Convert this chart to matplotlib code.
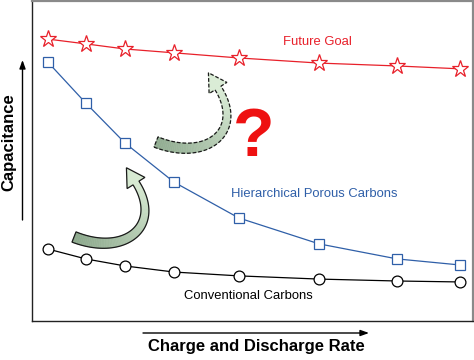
import numpy as np
import matplotlib
matplotlib.use("Agg")
import matplotlib.pyplot as plt
from matplotlib.patches import Polygon
from matplotlib.collections import PolyCollection

plt.rcParams['font.family'] = ['Liberation Sans', 'DejaVu Sans']

# ---- data (arbitrary units) ----
rate = [3.6, 12.2, 21.1, 32.2, 46.9, 65.1, 82.8, 97.1]
future_goal = [88.1, 86.6, 85.0, 83.8, 82.2, 80.6, 79.7, 78.8]
hierarchical = [80.9, 68.1, 55.6, 43.4, 32.2, 24.1, 19.4, 17.5]
conventional = [22.5, 19.4, 17.2, 15.3, 14.1, 13.1, 12.5, 12.2]

RED = '#e8202a'
BLUE = '#2f5fa8'

W, H = 474, 360
fig = plt.figure(figsize=(W / 100, H / 100), dpi=100)
L, R, T, B = 32, 473, 1, 321
ax = fig.add_axes([L / W, 1 - B / H, (R - L) / W, (B - T) / H])
ax.set_xlim(0, 100)
ax.set_ylim(0, 100)
ax.set_xticks([])
ax.set_yticks([])
for s in ['left', 'bottom']:
    ax.spines[s].set_color('#222222')
    ax.spines[s].set_linewidth(1.0)
for s in ['top', 'right']:
    ax.spines[s].set_color('#8a8a8a')
    ax.spines[s].set_linewidth(1.6)

ax.plot(rate, future_goal, color=RED, lw=0.9, marker='*', ms=12.5,
        mfc='white', mec=RED, mew=0.9, zorder=3)
ax.plot(rate, hierarchical, color=BLUE, lw=0.9, marker='s', ms=6.8,
        mfc='white', mec=BLUE, mew=0.9, zorder=3)
ax.plot(rate, conventional, color='black', lw=0.9, marker='o', ms=7.8,
        mfc='white', mec='black', mew=0.9, zorder=3)

def F(x, y):
    return (x / W, 1 - y / H)

fig.text(*F(317, 42), 'Future Goal', color=RED, fontsize=9.4,
         ha='center', va='center')
fig.text(*F(314, 194), 'Hierarchical Porous Carbons', color=BLUE,
         fontsize=9.4, ha='center', va='center')
fig.text(*F(248, 296), 'Conventional Carbons', color='black',
         fontsize=9.4, ha='center', va='center')
fig.text(*F(254, 138), '?', color='#ee1111', fontsize=49,
         fontweight='bold', ha='center', va='center')

# axis labels with arrows
fig.text(*F(9, 142), 'Capacitance', fontsize=12, fontweight='bold',
         rotation=90, ha='center', va='center')
fig.text(*F(256, 346), 'Charge and Discharge Rate', fontsize=12,
         fontweight='bold', ha='center', va='center')
ax.annotate('', xy=F(22.5, 60), xytext=F(22.5, 220), xycoords='figure fraction',
            textcoords='figure fraction',
            arrowprops=dict(arrowstyle='-|>,head_length=0.5,head_width=0.18',
                            lw=1.0, color='black', shrinkA=0, shrinkB=0))
ax.annotate('', xy=F(369, 333), xytext=F(143, 333), xycoords='figure fraction',
            textcoords='figure fraction',
            arrowprops=dict(arrowstyle='-|>,head_length=0.5,head_width=0.18',
                            lw=1.0, color='black', shrinkA=0, shrinkB=0))

# ---- curved block arrows ----
def curved_arrow(P, w0, w1, hw, hl, c0, c1, dashed=False):
    P = np.array(P, float)
    t = np.linspace(0, 1, 80)[:, None]
    pts = ((1 - t) ** 3 * P[0] + 3 * (1 - t) ** 2 * t * P[1]
           + 3 * (1 - t) * t ** 2 * P[2] + t ** 3 * P[3])
    der = (3 * (1 - t) ** 2 * (P[1] - P[0]) + 6 * (1 - t) * t * (P[2] - P[1])
           + 3 * t ** 2 * (P[3] - P[2]))
    d = der / np.linalg.norm(der, axis=1)[:, None]
    n = np.column_stack([-d[:, 1], d[:, 0]])
    w = (w0 + (w1 - w0) * t[:, 0])[:, None]
    left = pts + n * w / 2
    right = pts - n * w / 2
    c0 = np.array(c0); c1 = np.array(c1)
    quads, cols = [], []
    for i in range(len(pts) - 1):
        q = [left[i], left[i + 1], right[i + 1], right[i]]
        quads.append([F(*p) for p in q])
        f = (i + 0.5) / (len(pts) - 1)
        cols.append(tuple((c0 + (c1 - c0) * f) / 255))
    hl_pt = pts[-1] + n[-1] * hw / 2
    hr_pt = pts[-1] - n[-1] * hw / 2
    tip = pts[-1] + d[-1] * hl
    head = [F(*p) for p in [hl_pt, tip, hr_pt]]
    quads.append(head)
    cols.append(tuple(c1 / 255))
    pc = PolyCollection(quads, facecolors=cols, edgecolors=cols, linewidths=0.4,
                        transform=fig.transFigure, zorder=4)
    fig.add_artist(pc)
    outline = list(left) + [hl_pt, tip, hr_pt] + list(right[::-1])
    poly = Polygon([F(*p) for p in outline], closed=True, fill=False,
                   edgecolor='#1a1a1a', lw=0.9,
                   linestyle=(0, (3, 1.5)) if dashed else '-',
                   transform=fig.transFigure, zorder=5)
    fig.add_artist(poly)

P1 = [(74, 237), (125, 257), (163, 226), (136, 183)]
curved_arrow(P1, 11, 7, 21, 18, (140, 168, 140), (215, 234, 210))
P2 = [(x + 82, y - 95) for x, y in P1]
curved_arrow(P2, 11, 7, 21, 18, (145, 172, 145), (218, 236, 214), dashed=True)

fig.savefig('out.png', dpi=100)
